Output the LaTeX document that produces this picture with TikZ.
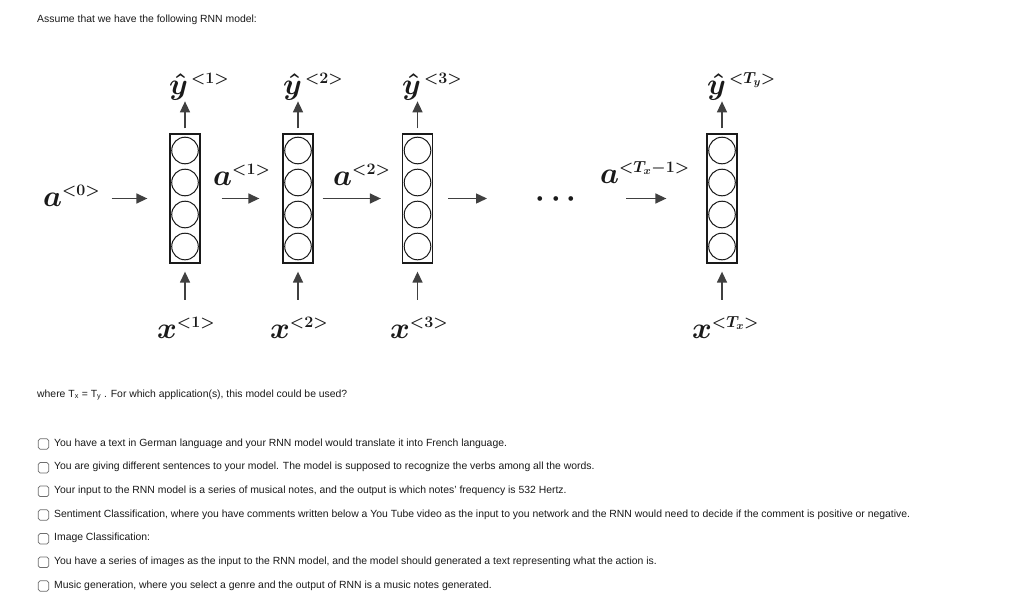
\documentclass[tikz,border=0pt]{standalone}
\usepackage{fix-cm}
\usepackage[no-math]{fontspec}
\setmainfont{Liberation Sans}
\usetikzlibrary{arrows.meta}
\DeclareMathSizes{30}{30}{16}{11}
\definecolor{ink}{HTML}{1A1A1A}
\definecolor{arrowc}{HTML}{404040}
\definecolor{boxc}{HTML}{6E6E6E}
\tikzset{
 cell/.style={draw=ink,line width=1.3pt,minimum width=30pt,minimum height=129pt,inner sep=0pt},
 unit/.style={draw=ink,line width=1pt},
 arr/.style={draw=arrowc,line width=1.4pt,-{Triangle[length=11pt,width=10pt]}},
 mlbl/.style={anchor=base west,inner sep=0pt,text=ink,font=\fontsize{30}{34}\selectfont\boldmath},
 txt/.style={anchor=base west,inner sep=0pt,text=ink,font=\fontsize{10.4}{12}\selectfont},
 chk/.style={draw=boxc,line width=0.7pt,rounded corners=1.8pt,minimum size=10.5pt,inner sep=0pt},
}
\begin{document}
\begin{tikzpicture}[x=1pt,y=-1pt]
\fill[white] (0,0) rectangle (1024,602);
\useasboundingbox (0,0) rectangle (1024,602);

\node[txt] (title) at (37,23) {Assume that we have the following RNN model:};

% cells
\node[cell] (c1) at (185,198.5) {};
\node[cell] (c2) at (298,198.5) {};
\node[cell] (c3) at (417.5,198.5) {};
\node[cell] (c4) at (722,198.5) {};
\foreach \c in {c1,c2,c3,c4}{
  \foreach \d in {-48,-16,16,48}{
    \draw[unit] ([yshift=\d pt]\c.center) circle[radius=13.3pt];
  }
  \draw[arr] ([yshift=-36pt]\c.south) -- ([yshift=-8pt]\c.south);
  \draw[arr] ([yshift=5pt]\c.north) -- ([yshift=32pt]\c.north);
}

% labels
\node[mlbl] (a0) at (43,206) {$a^{<0>}$};
\node[mlbl] (a1) at (213,185) {$a^{<1>}$};
\node[mlbl] (a2) at (333,185) {$a^{<2>}$};
\node[mlbl] (aT) at (600,183) {$a^{<T_x-1>}$};
\node[mlbl] (y1) at (169,94) {$\hat{y}^{\,<1>}$};
\node[mlbl] (y2) at (283,94) {$\hat{y}^{\,<2>}$};
\node[mlbl] (y3) at (402,94) {$\hat{y}^{\,<3>}$};
\node[mlbl] (yT) at (707,94) {$\hat{y}^{\,<T_y>}$};
\node[mlbl] (x1) at (157,338) {$x^{<1>}$};
\node[mlbl] (x2) at (270,338) {$x^{<2>}$};
\node[mlbl] (x3) at (390,338) {$x^{<3>}$};
\node[mlbl] (xT) at (692,338) {$x^{<T_x>}$};
\node[anchor=base,inner sep=0pt,text=ink,font=\fontsize{30}{34}\selectfont\boldmath] (dots) at (556,206.5) {$\cdots$};

% horizontal arrows
\draw[arr,shorten <=11pt,shorten >=22pt] (a0.east |- c1.west) -- (c1.west);
\draw[arr,shorten <=21pt,shorten >=23pt] (c1.east) -- (c2.west);
\draw[arr,shorten <=9pt,shorten >=21pt] (c2.east) -- (c3.west);
\coordinate (out3) at (487,198.5);
\draw[arr,shorten <=15pt] (c3.east) -- (out3);
\coordinate (inT) at (626,198.5);
\draw[arr,shorten >=40pt] (inT) -- (c4.west);

% question text
\node[txt] (where) at (37,397) {where T\textsubscript{x} = T\textsubscript{y} . For which application(s), this model could be used?};

\node[chk] (b1) at (43.5,444) {};
\node[txt] (t1) at (54,446) {You have a text in German language and your RNN model would translate it into French language.};
\node[chk] (b2) at (43.5,467.7) {};
\node[txt] (t2) at (54,469.7) {You are giving different sentences to your model. The model is supposed to recognize the verbs among all the words.};
\node[chk] (b3) at (43.5,491.3) {};
\node[txt] (t3) at (54,493.3) {Your input to the RNN model is a series of musical notes, and the output is which notes' frequency is 532 Hertz.};
\node[chk] (b4) at (43.5,515) {};
\node[txt] (t4) at (54,517) {Sentiment Classification, where you have comments written below a You Tube video as the input to you network and the RNN would need to decide if the comment is positive or negative.};
\node[chk] (b5) at (43.5,538.7) {};
\node[txt] (t5) at (54,540.7) {Image Classification:};
\node[chk] (b6) at (43.5,562.3) {};
\node[txt] (t6) at (54,564.3) {You have a series of images as the input to the RNN model, and the model should generated a text representing what the action is.};
\node[chk] (b7) at (43.5,586) {};
\node[txt] (t7) at (54,588) {Music generation, where you select a genre and the output of RNN is a music notes generated.};
\end{tikzpicture}
\end{document}
